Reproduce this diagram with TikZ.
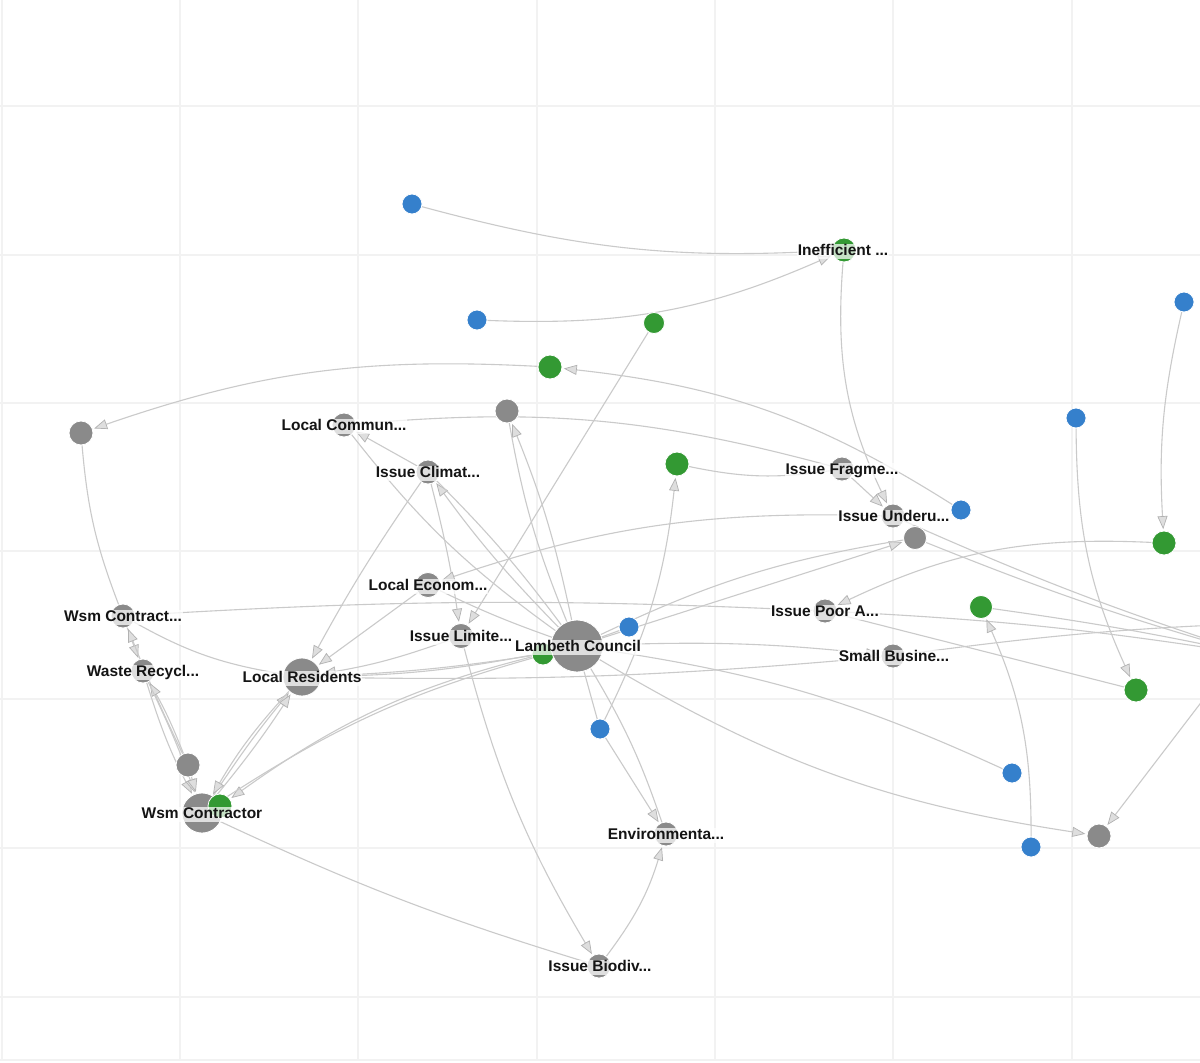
\documentclass[tikz,border=0pt]{standalone}
\usepackage{fontspec}
\setmainfont{Liberation Sans}
\usetikzlibrary{arrows.meta}
\definecolor{ngray}{HTML}{8A8A8A}
\definecolor{nblue}{HTML}{3580CC}
\definecolor{ngreen}{HTML}{339933}
\definecolor{edgec}{HTML}{CACACA}
\definecolor{gridc}{HTML}{F2F2F2}
\pgfdeclarelayer{bg}
\pgfsetlayers{bg,main}
\begin{document}
\begin{tikzpicture}[x=1pt,y=1pt,
  dot/.style={circle, draw=white, line width=0.8pt, inner sep=0pt, minimum size=#1},
  gdot/.style={dot=#1, fill=ngray},
  bdot/.style={dot=20pt, fill=nblue},
  grdot/.style={dot=#1, fill=ngreen},
  lbl/.style={fill=white, fill opacity=0.72, text opacity=1, inner xsep=1pt, inner ysep=0.5pt,
    text height=11pt, text depth=3pt, yshift=-1.4pt,
    font=\bfseries\fontsize{15.5}{18}\selectfont, text=black!92},
  edge/.style={draw=edgec, line width=1.1pt},
  arr/.style={edge, -{Triangle[length=13pt, width=10pt, fill=black!13, color=black!30, line width=0.7pt]}, shorten >=1.5pt},
  gridline/.style={draw=gridc, line width=1.3pt},
]
\useasboundingbox (0,0) rectangle (1200,-1063);

% ---------- nodes ----------
% blue
\node[bdot] (b1) at (412,-204) {};
\node[bdot] (b2) at (477,-320) {};
\node[bdot] (b3) at (1184,-302) {};
\node[bdot] (b4) at (1076,-418) {};
\node[bdot] (b5) at (961,-510) {};
\node[bdot] (b6) at (629,-627) {};
\node[bdot] (b7) at (600,-729) {};
\node[bdot] (b8) at (1012,-773) {};
\node[bdot] (b9) at (1031,-847) {};
% green
\node[grdot=21pt] (g1) at (654,-323) {};
\node[grdot=24pt] (g2) at (550,-367) {};
\node[grdot=24pt] (g3) at (677,-464) {};
\node[grdot=24pt] (g4) at (1164,-543) {};
\node[grdot=23pt] (g5) at (981,-607) {};
\node[grdot=24pt] (g6) at (1136,-690) {};
% gray unlabeled
\node[gdot=24pt] (k1) at (81,-433) {};
\node[gdot=24pt] (k2) at (507,-411) {};
\node[gdot=23pt] (k3) at (915,-538) {};
\node[gdot=24pt] (k4) at (1099,-836) {};
% labelled circles
\node[gdot=24pt] (lc) at (344,-425) {};
\node[gdot=24pt] (ic) at (428,-472) {};
\node[gdot=25pt] (le) at (428,-585) {};
\node[gdot=25pt] (il) at (461,-636) {};
\node[grdot=22pt] (g7) at (543,-654) {};
\node[gdot=52pt] (lam) at (577,-646) {};
\node[gdot=38pt] (lr) at (302,-677) {};
\node[gdot=24pt] (wc) at (123,-616) {};
\node[gdot=24pt] (wr) at (143,-671) {};
\node[gdot=40pt] (wsm) at (202,-813) {};
\node[gdot=24pt] (k5) at (188,-765) {};
\node[grdot=24pt] (g8) at (220,-806) {};
\node[grdot=24pt] (ineff) at (844,-250) {};
\node[gdot=24pt] (ifr) at (842,-469) {};
\node[gdot=24pt] (iu) at (893,-516) {};
\node[gdot=24pt] (ipa) at (825,-611) {};
\node[gdot=24pt] (sb) at (893,-656) {};
\node[gdot=24pt] (env) at (666,-834) {};
\node[gdot=24pt] (ib) at (599,-966) {};
% off-canvas ends
\coordinate (offA) at (1255,-655);
\coordinate (offB) at (1245,-645);
\coordinate (offC) at (1300,-622);

% ---------- labels ----------
\node[lbl] (lcL) at (344,-425) {Local Commun...};
\node[lbl] (icL) at (428,-472) {Issue Climat...};
\node[lbl] (leL) at (428,-585) {Local Econom...};
\node[lbl] (ilL) at (461,-636) {Issue Limite...};
\node[lbl] (lamL) at (578,-646) {Lambeth Council};
\node[lbl] (lrL) at (302,-677) {Local Residents};
\node[lbl] (wcL) at (123,-616) {Wsm Contract...};
\node[lbl] (wrL) at (143,-671) {Waste Recycl...};
\node[lbl] (wsmL) at (202,-813) {Wsm Contractor};
\node[lbl] (ineffL) at (843,-250) {Inefficient ...};
\node[lbl] (ifrL) at (842,-469) {Issue Fragme...};
\node[lbl] (iuL) at (894,-516) {Issue Underu...};
\node[lbl] (ipaL) at (825,-611) {Issue Poor A...};
\node[lbl] (sbL) at (894,-656) {Small Busine...};
\node[lbl] (envL) at (666,-834) {Environmenta...};
\node[lbl] (ibL) at (600,-966) {Issue Biodiv...};

% ---------- background: grid and edges ----------
\begin{pgfonlayer}{bg}
\fill[white] (0,0) rectangle (1200,-1063);
\foreach \gx in {2,180,358,537,715,893,1072} \draw[gridline] (\gx,0) -- (\gx,-1060);
\foreach \gy in {106,255,403,551,699,848,997,1060} \draw[gridline] (0,-\gy) -- (1200,-\gy);

\draw[arr] (b1) to[bend right=9] (ineff);
\draw[arr] (b2) to[bend right=13] (ineff);
\draw[arr] (ineff) to[bend right=15] (iu);
\draw[arr] (g1) -- (il);
\draw[arr] (b5) to[bend right=13] (g2);
\draw[arr] (g2) to[bend right=11] (k1);
\draw[edge] (k1) to[bend right=8] (wc);
\draw[edge] (lc) to[bend left=10] (ifr);
\draw[arr] (ic) -- (lc);
\draw[edge] (lam) to[bend left=8] (lc);
\draw[arr] (ic) to[bend left=3] (il);
\draw[arr] (lam) to[bend left=4] (ic);
\draw[edge] (ic) to[bend left=4] (lam);
\draw[arr] (lam) to[bend right=5] (k2);
\draw[edge] (k2) to[bend right=6] (lam);
\draw[arr] (b7) to[bend right=10] (g3);
\draw[edge] (g3) to[bend right=10] (ifr);
\draw[arr] (iu) to[bend right=10] (le);
\draw[arr] (b3) to[bend right=8] (g4);
\draw[arr] (b4) to[bend right=12] (g6);
\draw[arr] (ifr) -- (iu);
\draw[edge] (iu) to[bend right=3] (offA);
\draw[edge] (k3) to[bend right=3] (offA);
\draw[arr] (g4) to[bend right=14] (ipa);
\draw[edge] (g5) to[bend left=2] (offA);
\draw[edge] (ipa) -- (g6);
\draw[edge] (ipa) to[bend left=3] (offA);
\draw[edge] (sb) to[bend left=3] (offC);
\draw[arr] (offB) -- (k4);
\draw[edge] (lam) to[bend left=8] (b8);
\draw[arr] (lam) to[bend right=11] (k4);
\draw[arr] (b9) to[bend right=12] (g5);
\draw[edge] (lam) -- (b7);
\draw[arr] (b7) -- (env);
\draw[edge] (lam) to[bend left=6] (env);
\draw[arr] (il) to[bend right=8] (ib);
\draw[arr] (ib) to[bend right=10] (env);
\draw[edge] (wsm) to[bend right=4] (ib);
\draw[arr] (lam) to[bend right=11] (g8);
\draw[edge] (lam) to[bend right=9] (wsm);
\draw[arr] (wsm) to[bend left=3] (lr);
\draw[arr] (wsm) to[bend right=3] (lr);
\draw[arr] (lr) to[bend right=6] (wsm);
\draw[arr] (wc) -- (wr);
\draw[arr] (k5) to[bend left=2] (wc);
\draw[arr] (k5) to[bend right=4] (wr);
\draw[arr] (wr) to[bend right=5] (wsm);
\draw[arr] (wr) to[bend left=3] (wsm);
\draw[arr] (k5) -- (wsm);
\draw[edge] (wc) to[bend right=10] (lr);
\draw[edge] (wc) to[bend left=3] (ipa);
\draw[arr] (ic) to[bend right=3] (lr);
\draw[arr] (le) -- (lr);
\draw[arr] (il) to[bend left=5] (lr);
\draw[arr] (lam) to[bend left=5] (lr);
\draw[edge] (g7) to[bend left=3] (lr);
\draw[edge] (lr) to[bend right=3] (sb);
\draw[arr] (lam) to[bend left=4] (sb);
\draw[edge] (le) to[bend right=3] (lam);
\draw[edge] (b6) -- (lam);
\draw[arr] (lam) -- (k3);
\draw[edge] (lam) to[bend left=8] (k3);
\end{pgfonlayer}
\end{tikzpicture}
\end{document}
